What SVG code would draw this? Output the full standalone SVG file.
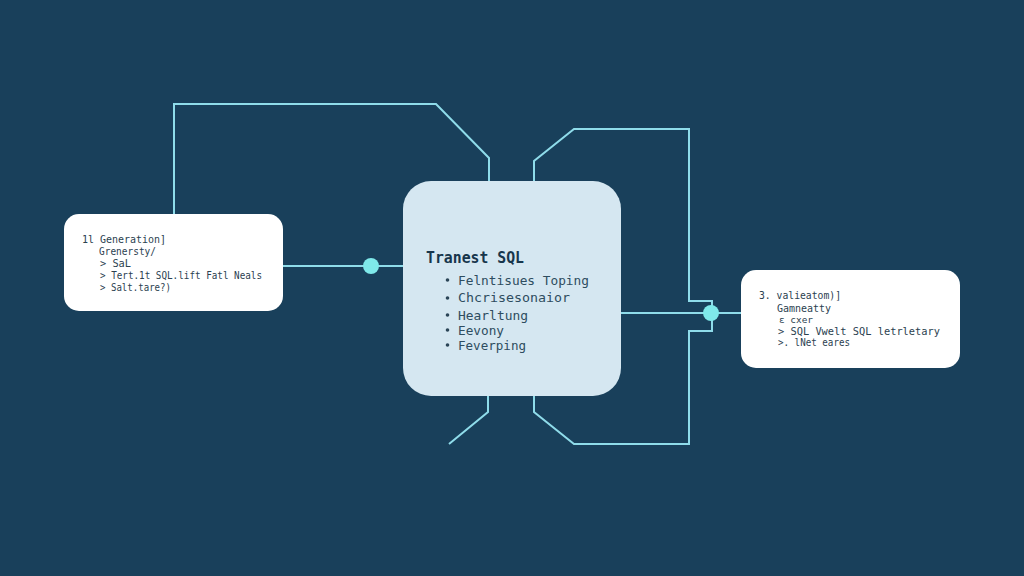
<svg xmlns="http://www.w3.org/2000/svg" width="1024" height="576" viewBox="0 0 1024 576">
<style>
.c{fill:none;stroke:#8fdcea;stroke-width:2;stroke-linejoin:miter}
.card{fill:#fff}
.t{font-family:"DejaVu Sans Mono","Liberation Mono",monospace;font-size:11px;fill:#2b4150}
.s{font-family:"DejaVu Sans Mono","Liberation Mono",monospace;font-size:9px;fill:#2b4150}
.m{font-family:"DejaVu Sans Mono","Liberation Mono",monospace;font-size:12px;fill:#2e4d60}
.h{font-family:"DejaVu Sans Mono","Liberation Mono",monospace;font-size:15.5px;fill:#17364c;font-weight:700}
.b{fill:#2b4557}
.d{fill:#7fe9ea}
</style>
<rect width="1024" height="576" fill="#19405b"/>
<g id="connectors">
<path class="c" d="M174 214V104H436L489 158V181"/>
<path class="c" d="M534 181V161L574 129H689V301H712V313"/>
<path class="c" d="M283 266H403"/>
<path class="c" d="M621 313H741"/>
<path class="c" d="M712 313V331H689V444H574L534 412V396"/>
<path class="c" d="M488 396V412L449 444"/>
<circle class="d" cx="371" cy="266" r="8"/>
<circle class="d" cx="711" cy="313" r="8"/>
</g>
<g id="node-generation">
<rect class="card" x="64" y="214" width="219" height="97" rx="15"/>
<text class="t" x="82" y="243" textLength="84" lengthAdjust="spacingAndGlyphs">1l Generation]</text>
<text class="t" x="99" y="255" textLength="57" lengthAdjust="spacingAndGlyphs">Grenersty/</text>
<text class="t" x="100" y="267" textLength="31" lengthAdjust="spacingAndGlyphs">&gt; SaL</text>
<text class="t" x="100" y="279" textLength="162" lengthAdjust="spacingAndGlyphs">&gt; Tert.1t SQL.lift Fatl Neals</text>
<text class="t" x="100" y="291" textLength="71" lengthAdjust="spacingAndGlyphs">&gt; Salt.tare?)</text>
</g>
<g id="node-transact">
<rect x="403" y="181" width="218" height="215" rx="28" fill="#d5e7f1"/>
<text class="h" x="426" y="263" textLength="98" lengthAdjust="spacingAndGlyphs">Tranest SQL</text>
<circle class="b" cx="447.500" cy="280" r="1.800"/><text class="m" x="458" y="285" textLength="131" lengthAdjust="spacingAndGlyphs">Felntisues Toping</text>
<circle class="b" cx="447.500" cy="298" r="1.800"/><text class="m" x="458" y="302" textLength="112" lengthAdjust="spacingAndGlyphs">Chcrisesonaior</text>
<circle class="b" cx="447.500" cy="315" r="1.800"/><text class="m" x="458" y="320" textLength="70" lengthAdjust="spacingAndGlyphs">Hearltung</text>
<circle class="b" cx="447.500" cy="330" r="1.800"/><text class="m" x="458" y="335" textLength="46" lengthAdjust="spacingAndGlyphs">Eevony</text>
<circle class="b" cx="447.500" cy="345" r="1.800"/><text class="m" x="458" y="350" textLength="68" lengthAdjust="spacingAndGlyphs">Feverping</text>
</g>
<g id="node-validation">
<rect class="card" x="741" y="270" width="219" height="98" rx="15"/>
<text class="t" x="759" y="299" textLength="82" lengthAdjust="spacingAndGlyphs">3. valieatom)]</text>
<text class="t" x="777" y="312" textLength="54" lengthAdjust="spacingAndGlyphs">Gamneatty</text>
<text class="s" x="779" y="323" textLength="34" lengthAdjust="spacingAndGlyphs">&#949; cxer</text>
<text class="t" x="778" y="335" textLength="162" lengthAdjust="spacingAndGlyphs">&gt; SQL Vwelt SQL letrletary</text>
<text class="t" x="778" y="346" textLength="72" lengthAdjust="spacingAndGlyphs">&gt;. lNet eares</text>
</g>
</svg>
